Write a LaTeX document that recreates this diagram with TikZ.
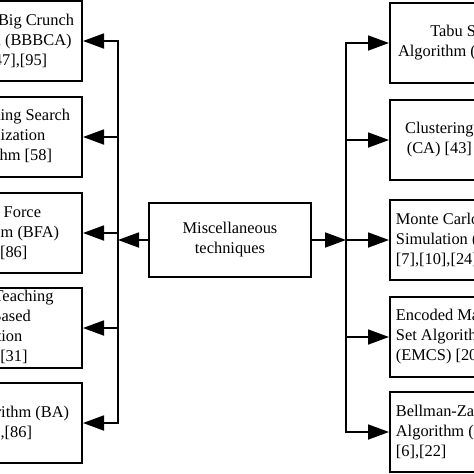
\documentclass[tikz,border=0pt]{standalone}
\usepackage{fontspec}
\setmainfont{Liberation Serif}
\usetikzlibrary{arrows.meta}

\begin{document}
\begin{tikzpicture}[x=1pt, y=-1pt, line width=1.8pt, >={Triangle[length=21pt,width=15pt]},
  box/.style={draw, minimum height=80pt, inner ysep=2pt, inner xsep=6pt, align=center, font=\fontsize{16.4}{20}\selectfont},
  leftbox/.style={box, anchor=east},
  rightbox/.style={box, anchor=west}]
\useasboundingbox (0,0) rectangle (474,474);
\clip (0,0) rectangle (474,474);

\node[box, minimum width=162pt, minimum height=74pt] (misc) at (230,240) {Miscellaneous\\techniques};

\node[leftbox, minimum width=160pt] (bbbca) at (83,41) {Big Bang-Big Crunch\\Algorithm (BBBCA)\\{}[36],[47],[95]};
\node[leftbox, minimum width=160pt] (bsa) at (83,137) {Backtracking Search\\Optimization\\Algorithm [58]};
\node[leftbox, minimum width=160pt] (bfa) at (83,233) {Brute Force\\Algorithm (BFA)\\{}[9],[86]};
\node[leftbox, minimum width=206pt] (tlbo) at (83,328) {Oppositional Teaching\\Learning Based\\Optimization\\(OTLBO) [31]};
\node[leftbox, minimum width=159pt] (bat) at (83,423) {Bat Algorithm (BA)\\{}[44],[86]};

\node[rightbox, minimum width=162pt] (tabu) at (389,43) {Tabu Search\\Algorithm (TSA) [12]};
\node[rightbox, minimum width=99pt] (ca) at (389,140) {Clustering\\(CA) [43]};
\node[rightbox, align=left] (mcs) at (389,240) {Monte Carlo\\Simulation (MCS)\\{}[7],[10],[24]};
\node[rightbox, align=left] (emcs) at (389,337) {Encoded Markov Cut\\Set Algorithm\\(EMCS) [20]};
\node[rightbox, align=left] (bz) at (389,432) {Bellman-Zadeh\\Algorithm (BZA)\\{}[6],[22]};

\coordinate (lbus) at (118,0);
\coordinate (rbus) at (346,0);

\draw[line cap=rect] (lbus |- bbbca) -- (lbus |- bat);
\draw[line cap=rect] (rbus |- tabu) -- (rbus |- bz);

\draw[->] (misc) -- (lbus |- misc);
\draw[->] (misc) -- (rbus |- misc);

\draw[->] (lbus |- bbbca) -- (bbbca);
\draw[->] (lbus |- bsa) -- (bsa);
\draw[->] (lbus |- bfa) -- (bfa);
\draw[->] (lbus |- tlbo) -- (tlbo);
\draw[->] (lbus |- bat) -- (bat);

\draw[->] (rbus |- tabu) -- (tabu);
\draw[->] (rbus |- ca) -- (ca);
\draw[->] (rbus |- mcs) -- (mcs);
\draw[->] (rbus |- emcs) -- (emcs);
\draw[->] (rbus |- bz) -- (bz);
\end{tikzpicture}
\end{document}
